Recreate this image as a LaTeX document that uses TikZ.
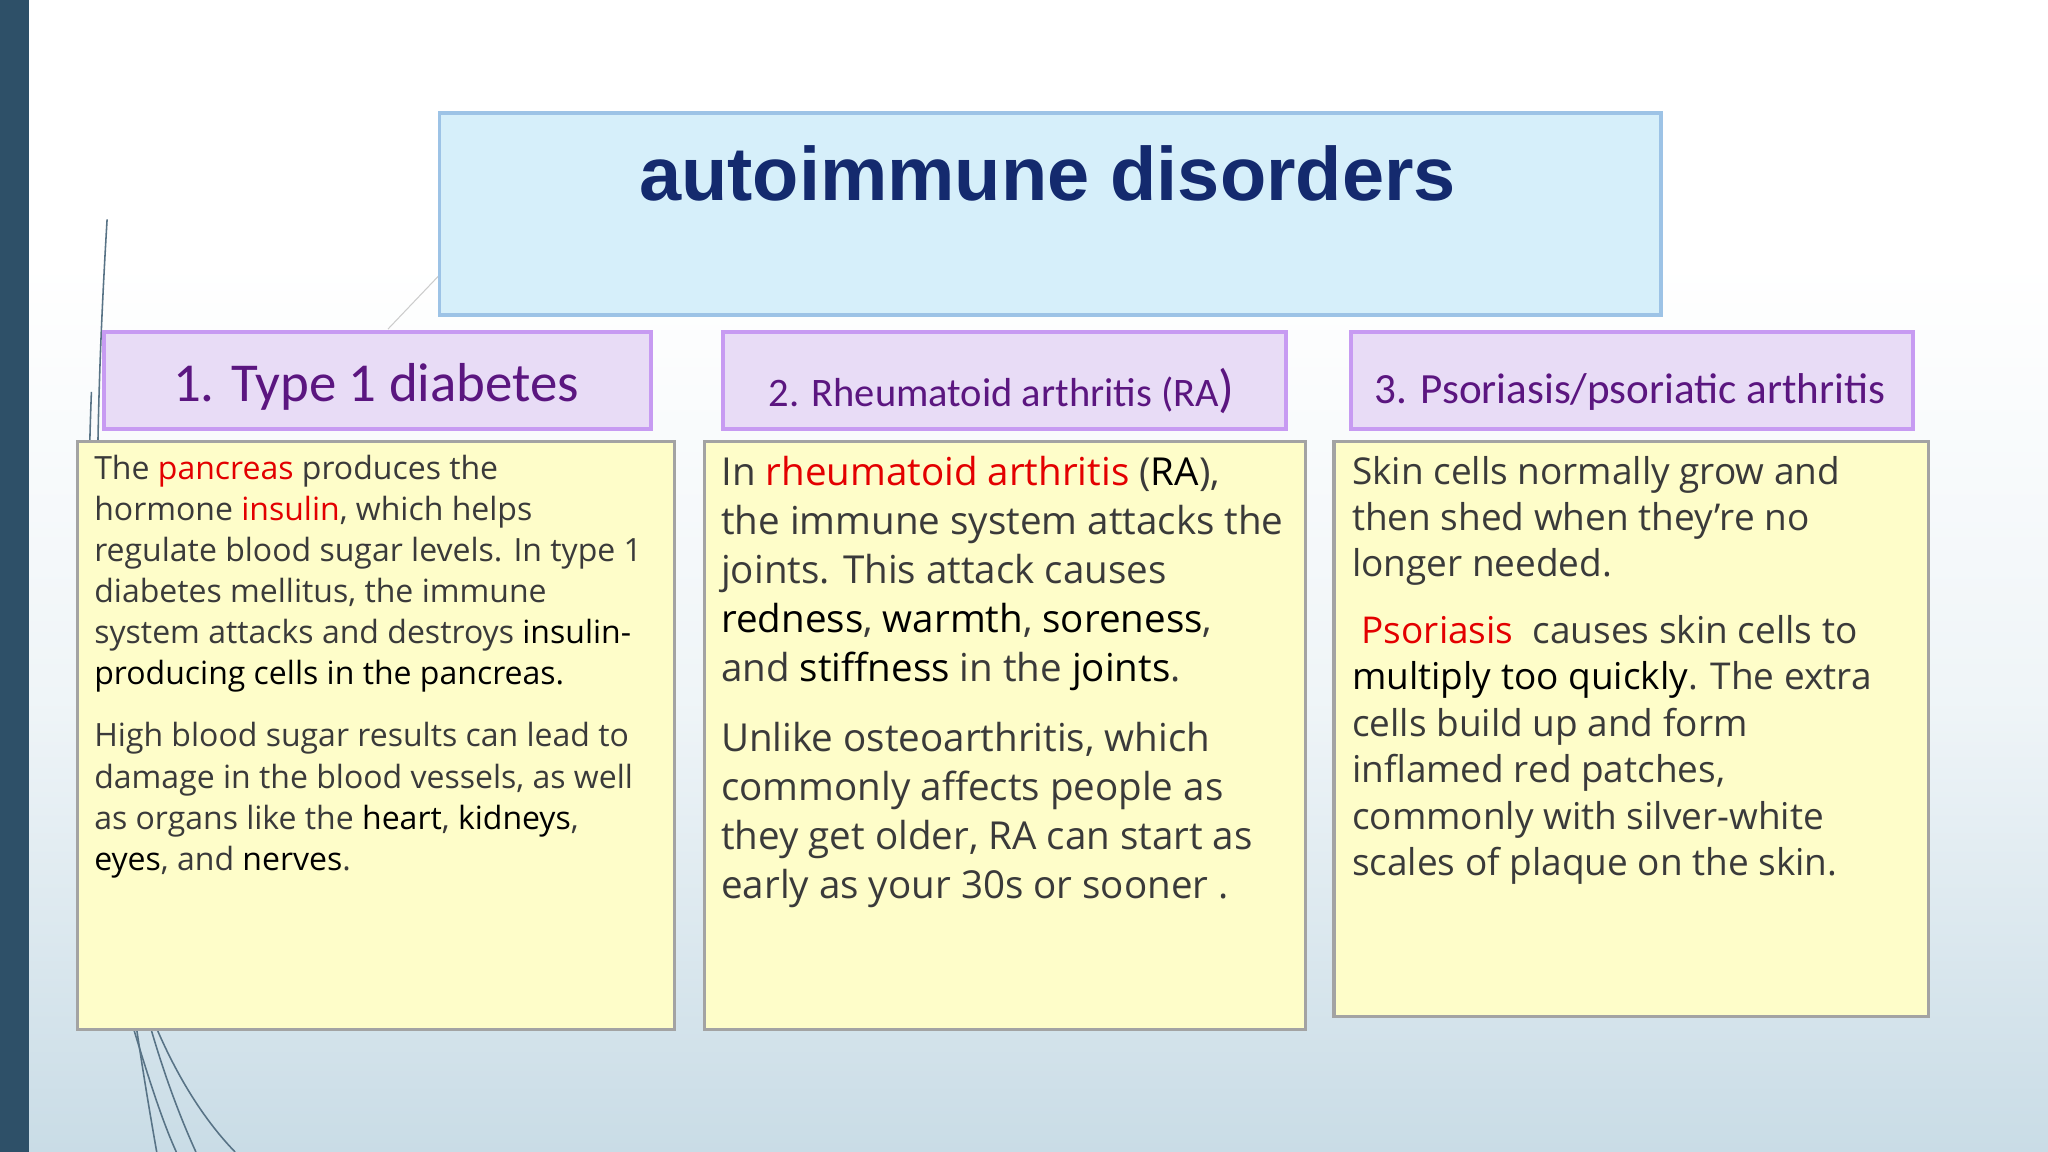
\documentclass[tikz,border=0pt]{standalone}
\usepackage{fontspec}
\setmainfont{Open Sans}
\newfontfamily\titlefont{Liberation Sans}
\newfontfamily\catfont{Carlito}
\definecolor{bar}{HTML}{2E5068}
\definecolor{tfill}{HTML}{D6EFFA}
\definecolor{tdraw}{HTML}{9DC3E6}
\definecolor{navy}{HTML}{142A6E}
\definecolor{cfill}{HTML}{E8DCF6}
\definecolor{cdraw}{HTML}{C79BF2}
\definecolor{ctext}{HTML}{5B1680}
\definecolor{yfill}{HTML}{FEFDC9}
\definecolor{ydraw}{HTML}{A3A3A3}
\definecolor{body}{HTML}{3A3A3A}
\definecolor{hl}{HTML}{E30000}
\definecolor{bgb}{HTML}{C9DCE6}
\tikzset{
 x=1pt,y=-1pt,
 titlebox/.style={draw=tdraw,line width=3pt,fill=tfill},
 catbox/.style={draw=cdraw,line width=3pt,fill=cfill},
 ybox/.style={draw=ydraw,line width=2.5pt,fill=yfill},
 bodytext/.style={anchor=north west,align=left,inner sep=0pt,text=body},
 deco/.style={draw=bar!80,line width=1.2pt},
}
\newcommand{\hlr}[1]{\textcolor{hl}{#1}}
\newcommand{\emk}[1]{\textcolor{black}{#1}}
\begin{document}
\begin{tikzpicture}
\useasboundingbox (0,0) rectangle (1568,882);
\fill[white] (0,0) rectangle (1568,200);
\shade[top color=white,bottom color=white!70!bgb] (0,200) rectangle (1568,540);
\shade[top color=white!70!bgb,bottom color=bgb] (0,540) rectangle (1568,882);
\fill[bar] (0,0) rectangle (22,882);
% decorative lines
\draw[deco] (82,168) .. controls (68,400) and (70,600) .. (120,882);
\draw[deco] (70,300) .. controls (60,550) and (90,750) .. (150,882);
\draw[deco] (60,500) .. controls (75,700) and (120,820) .. (180,882);
\draw[deco] (100,780) .. controls (115,830) and (125,860) .. (135,882);
\draw[gray!40,line width=0.8pt] (297,252) -- (337,210);
% title
\node[titlebox,minimum width=935,minimum height=155,anchor=north west] (title) at (335,85) {};
\node[text=navy,font=\titlefont\bfseries\fontsize{58}{66}\selectfont] (tt) at (802,133) {autoimmune disorders};
% category boxes
\node[catbox,minimum width=419,minimum height=74,anchor=north west] (c1) at (78,253) {};
\node[text=ctext,font=\catfont\fontsize{42}{48}\selectfont] (c1t) at (288,296) {1. Type 1 diabetes};
\node[catbox,minimum width=431,minimum height=74,anchor=north west] (c2) at (552,253) {};
\node[text=ctext,font=\catfont\fontsize{31}{36}\selectfont] (c2t) at (767,299) {2. Rheumatoid arthritis (RA{\fontsize{40}{40}\selectfont )}};
\node[catbox,minimum width=430,minimum height=74,anchor=north west] (c3) at (1033,253) {};
\node[text=ctext,font=\catfont\fontsize{33}{38}\selectfont] (c3t) at (1248,300) {3. Psoriasis/psoriatic arthritis};
% yellow boxes
\node[ybox,minimum width=457,minimum height=450,anchor=north west] (y1) at (58,337) {};
\node[ybox,minimum width=460,minimum height=450,anchor=north west] (y2) at (538,337) {};
\node[ybox,minimum width=455,minimum height=440,anchor=north west] (y3) at (1020,337) {};
\node[bodytext,font=\fontsize{24.5}{31.5}\selectfont] (t1a) at (72,348) {The \hlr{pancreas} produces the\\hormone \hlr{insulin}, which helps\\regulate blood sugar levels. In type 1\\diabetes mellitus, the immune\\system attacks and destroys \emk{insulin-}\\\emk{producing cells in the pancreas.}};
\node[bodytext,font=\fontsize{24.5}{31.5}\selectfont] (t1b) at (72,553) {High blood sugar results can lead to\\damage in the blood vessels, as well\\as organs like the \emk{heart}, \emk{kidneys},\\\emk{eyes}, and \emk{nerves}.};
\node[bodytext,font=\fontsize{29.5}{37.5}\selectfont] (t2a) at (552,349) {In \hlr{rheumatoid arthritis} (\emk{RA}),\\the immune system attacks the\\joints. This attack causes\\\emk{redness}, \emk{warmth}, \emk{soreness},\\and \emk{stiffness} in the \emk{joints}.};
\node[bodytext,font=\fontsize{29.5}{37.5}\selectfont] (t2b) at (552,553) {Unlike osteoarthritis, which\\commonly affects people as\\they get older, RA can start as\\early as your 30s or sooner .};
\node[bodytext,font=\fontsize{28.3}{35.5}\selectfont] (t3a) at (1035,349) {Skin cells normally grow and\\then shed when they’re no\\longer needed.};
\node[bodytext,font=\fontsize{28.3}{35.5}\selectfont] (t3b) at (1035,471) {\ \hlr{Psoriasis}\ \ causes skin cells to\\\emk{multiply too quickly}. The extra\\cells build up and form\\inflamed red patches,\\commonly with silver-white\\scales of plaque on the skin.};
\end{tikzpicture}
\end{document}
